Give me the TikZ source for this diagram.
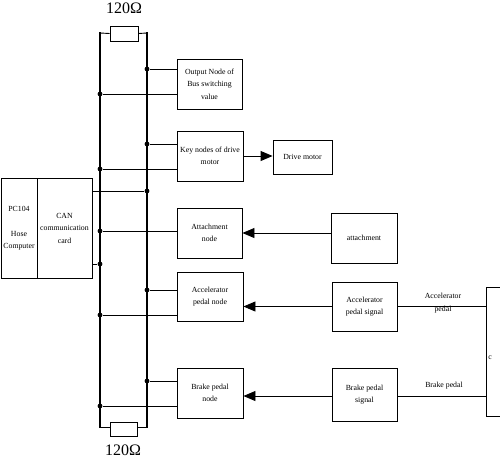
\documentclass[tikz,border=0pt]{standalone}
\usepackage{fontspec}
\setmainfont{Liberation Serif}
\usetikzlibrary{arrows.meta,calc}

\begin{document}
\begin{tikzpicture}[x=1pt,y=-1pt]
\tikzstyle{recti}=[rectangle,draw,line width=0.9pt,inner sep=1pt,align=center,font=\fontsize{7.8}{12.5}\selectfont]
\tikzstyle{res}=[rectangle,draw,line width=0.9pt,minimum width=28pt,minimum height=15pt]
\tikzstyle{wire}=[line width=0.9pt]
\tikzstyle{bus}=[line width=1.3pt,line cap=rect]
\tikzstyle{sig}=[line width=0.9pt,-{Triangle[length=12pt,width=10pt]}]
\tikzstyle{dot}=[circle,fill,inner sep=0pt,minimum size=4.8pt]
\tikzstyle{ohm}=[inner sep=0pt,font=\fontsize{16}{16}\selectfont]
\tikzstyle{lbl}=[align=center,inner sep=0pt,font=\fontsize{7.8}{12.5}\selectfont]
\useasboundingbox (0,0) rectangle (500,458);
\clip (0,0) rectangle (500,458);

% CAN bus with two terminating resistors
\coordinate (LT) at (100,33);
\coordinate (LB) at (100,427);
\coordinate (RT) at (147,33);
\coordinate (RB) at (147,427);
\node [res] (rtop) at (124,33.5) {};
\node [res,minimum width=27pt,minimum height=14pt] (rbot) at (123.5,429) {};
\node [ohm] (otop) at (124,8) {120Ω};
\node [ohm] (obot) at (123,450) {120Ω};
\draw [bus] (LT) -- (LB);
\draw [bus] (RT) -- (RB);
\draw [wire] (LT) -- (rtop.west);
\draw [wire] (rtop.east) -- (RT);
\draw [wire] (LB) -- (LB -| rbot.west);
\draw [wire] (RB -| rbot.east) -- (RB);

% host computer
\node [recti,minimum width=36pt,minimum height=100pt] (pc) at (19,228) {PC104\\[12.5pt]Hose\\Computer};
\node [recti,minimum width=55pt,minimum height=100pt] (can) at (64.5,228) {CAN\\communication\\card};

% nodes on the bus
\node [recti,minimum width=65pt,minimum height=50pt] (outn) at (209.5,84) {Output Node of\\Bus switching\\value};
\node [recti,minimum width=66pt,minimum height=50pt] (keyn) at (210,156) {Key nodes of drive\\motor};
\node [recti,minimum width=65pt,minimum height=50pt] (attn) at (209.5,233) {Attachment\\node};
\node [recti,minimum width=66pt,minimum height=49pt] (accn) at (210,296.5) {Accelerator\\pedal node};
\node [recti,minimum width=66pt,minimum height=50pt] (brkn) at (210,393) {Brake pedal\\node};

% devices
\node [recti,minimum width=59pt,minimum height=34pt] (drv) at (302.5,157) {Drive motor};
\node [recti,minimum width=66pt,minimum height=50pt] (atts) at (364,238) {attachment};
\node [recti,minimum width=65pt,minimum height=49pt] (accs) at (364.5,306.5) {Accelerator\\pedal signal};
\node [recti,minimum width=65pt,minimum height=53pt] (brks) at (364.5,394.5) {Brake pedal\\signal};
\node [recti,minimum width=40pt,minimum height=129pt] (ctl) at (506,351.5) {};
\node [lbl] (ctlc) at (490,358) {c};

% taps on the bus
\node [dot] (r1) at (147,69) {};
\node [dot] (l1) at (100,94) {};
\node [dot] (r2) at (147,144) {};
\node [dot] (l2) at (100,169) {};
\node [dot] (r3) at (147,191) {};
\node [dot] (l3) at (100,231) {};
\node [dot] (l4) at (100,264) {};
\node [dot] (r5) at (147,290) {};
\node [dot] (l5) at (100,315) {};
\node [dot] (r6) at (147,381) {};
\node [dot] (l6) at (100,406) {};
\draw [wire] (r1) -- (r1 -| outn.west);
\draw [wire] (l1) -- (l1 -| outn.west);
\draw [wire] (r2) -- (r2 -| keyn.west);
\draw [wire] (l2) -- (l2 -| keyn.west);
\draw [wire] (r3 -| can.east) -- (r3);
\draw [wire] (l3) -- (l3 -| attn.west);
\draw [wire] (l4 -| can.east) -- (l4);
\draw [wire] (r5) -- (r5 -| accn.west);
\draw [wire] (l5) -- (l5 -| accn.west);
\draw [wire] (r6) -- (r6 -| brkn.west);
\draw [wire] (l6) -- (l6 -| brkn.west);

% signals
\draw [sig] (keyn.east) -- (keyn.east -| drv.west);
\draw [sig] (attn.east -| atts.west) -- (attn.east);
\draw [sig] (accs.west) -- (accs.west -| accn.east);
\draw [sig] (brks.west |- 0,396) -- (brkn.east |- 0,396);
\draw [wire] (accs.east) -- (accs.east -| ctl.west);
\draw [wire] (brks.east |- 0,396) -- (ctl.west |- 0,396);
\node [lbl] (accl) at (443,303) {Accelerator\\pedal};
\node [lbl] (brkl) at (444,386) {Brake pedal};
\end{tikzpicture}
\end{document}
